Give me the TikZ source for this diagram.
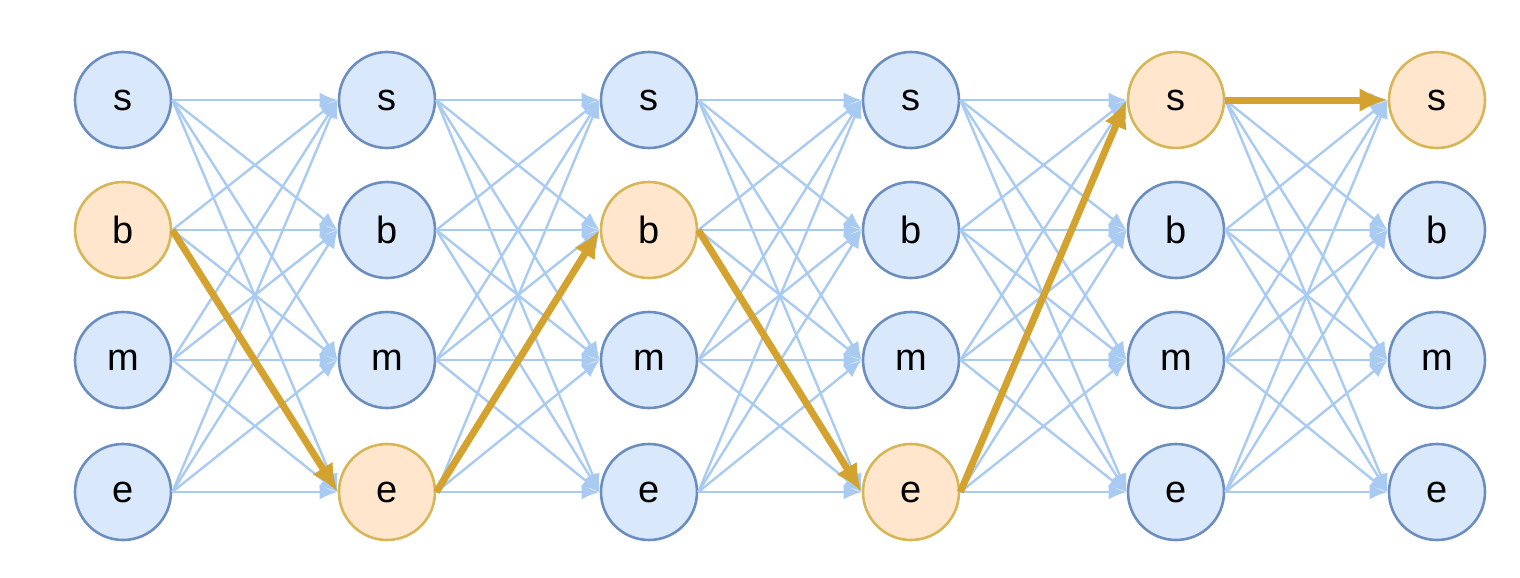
\documentclass[tikz,border=0pt]{standalone}
\usepackage{fontspec}
\setmainfont{Liberation Sans}
\usetikzlibrary{arrows.meta}
\definecolor{bfill}{HTML}{DAE8FC}
\definecolor{bdraw}{HTML}{6C8EBF}
\definecolor{ofill}{HTML}{FFE6CC}
\definecolor{odraw}{HTML}{D6B656}
\definecolor{edge}{HTML}{A9CBF2}
\definecolor{gold}{HTML}{D4A22E}
\tikzset{
 st/.style={circle,draw=bdraw,fill=bfill,line width=2.6pt,minimum size=96pt,inner sep=0pt,font=\fontsize{38}{38}\selectfont},
 hi/.style={st,draw=odraw,fill=ofill},
 ed/.style={draw=edge,line width=2.4pt,-{Latex[length=18pt,width=15pt]}},
 gd/.style={draw=gold,line width=7pt,-{Latex[length=28pt,width=24pt]}}
}
\begin{document}
\begin{tikzpicture}[x=1pt,y=-1pt]
\useasboundingbox (0,0) rectangle (1520,578);
\def\xs{{123,387,649,911,1176,1437}}
\def\ys{{100,230,360,492}}
\foreach \c/\h in {0/1,1/3,2/1,3/3,4/0,5/0}{
 \foreach \r/\l in {0/s,1/b,2/m,3/e}{
  \pgfmathsetmacro\X{\xs[\c]}\pgfmathsetmacro\Y{\ys[\r]}
  \ifnum\r=\h
   \node[hi] (n\c\r) at (\X,\Y) {\l};
  \else
   \node[st] (n\c\r) at (\X,\Y) {\l};
  \fi
 }
}
\foreach \c [evaluate=\c as \d using int(\c+1)] in {0,...,4}{
 \foreach \r in {0,...,3}{\foreach \t in {0,...,3}{
  \draw[ed] (n\c\r.east) -- (n\d\t.west);
 }}
}
\draw[gd] (n01.east) -- (n13.west);
\draw[gd] (n13.east) -- (n21.west);
\draw[gd] (n21.east) -- (n33.west);
\draw[gd] (n33.east) -- (n40.west);
\draw[gd] (n40.east) -- (n50.west);
\end{tikzpicture}
\end{document}
